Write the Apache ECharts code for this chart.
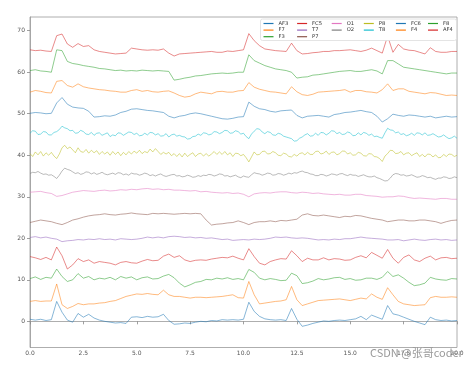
<!DOCTYPE html>
<html>
<head>
<meta charset="utf-8">
<script src="https://cdn.jsdelivr.net/npm/echarts@6/dist/echarts.min.js"></script>
<style>
  html, body { margin: 0; padding: 0; background: #fff; }
  #main { width: 474px; height: 367px; }
</style>
</head>
<body>
<div id="main"></div>
<script>
// channel order = plotting order, bottom to top
const channelNames = ['AF3', 'F7', 'F3', 'FC5', 'T7', 'P7', 'O1', 'O2', 'P8', 'T8', 'FC6', 'F4', 'F8', 'AF4']
// legend split in two blocks so the columns hold 3,3 then 2,2,2,2 names
const legendLeft = ['AF3', 'F7', 'F3', 'FC5', 'T7', 'P7']
const legendRight = ['O1', 'O2', 'P8', 'T8', 'FC6', 'F4', 'F8', 'AF4']

// samples spread evenly over 0..20 s, values relative to each channel's baseline
const af3 = [0.5,0.3,0.5,0.2, 0.4,4.8,2.2,0.3, -0.2,1.9,1.0,1.7, 0.8,0.3,0.0,-0.2, -0.4,-0.3,-0.5,1.0, 1.1,0.9,1.2,1.0, 1.1,1.7,0.2,-0.7, -0.6,-0.4,-0.5,-0.2, 0.0,-0.1,0.2,0.1, 0.4,0.3,0.4,0.3, 0.5,4.6,2.4,1.2, 0.6,0.4,0.3,0.4, 0.2,3.1,0.5,-1.2, -0.9,-0.5,-0.2,0.1, 0.0,0.2,0.3,0.2, 0.4,0.6,1.2,0.4, 1.5,1.0,0.5,3.8, 1.8,1.5,1.0,0.5, 0.0,-0.4,-0.8,1.0, 0.4,0.2,0.3,0.1, 0.2]
const f7 = [-0.2,0.0,-0.2,-0.1, -0.1,4.0,-1.0,-1.9, -1.4,-0.7,-1.0,-0.8, -0.8,-0.6,-0.5,-0.2, 0.0,0.5,1.0,1.3, 1.6,1.5,1.7,1.5, 1.4,2.5,1.4,1.0, 1.0,0.8,0.6,0.8, 0.8,0.7,0.8,0.9, 1.0,1.2,1.4,0.7, 0.6,4.6,1.4,-0.8, -0.6,-0.4,-0.2,-0.1, 0.2,3.4,0.2,-1.2, -0.8,-0.4,0.0,0.1, 0.2,0.3,0.4,0.2, 0.0,0.3,0.6,0.4, 1.6,0.8,0.3,3.1, 1.4,-0.2,-0.8,-1.0, -1.2,-1.1,-1.0,0.7, 1.0,0.8,0.8,0.9, 0.8]
const f3 = [0.3,0.7,0.1,0.6, 0.4,2.6,0.8,-0.4, 0.0,1.5,0.4,0.8, 0.0,0.4,0.2,0.6, 0.0,0.8,0.4,0.7, 0.0,0.5,0.7,0.2, 0.3,0.9,1.3,0.5, -0.8,-1.7,-1.2,-0.6, -0.4,0.1,0.0,0.4, 0.2,0.5,0.1,0.3, 0.0,2.5,1.8,0.4, 0.0,0.3,0.1,-0.2, -0.1,1.6,1.0,-0.9, -0.7,-0.3,0.3,0.0, 0.2,0.5,0.6,0.1, 0.3,-0.1,0.0,0.4, 0.4,0.1,0.6,2.0, 0.8,1.2,0.4,-0.6, -1.4,-1.2,-0.8,0.6, 0.2,0.0,-0.1,0.3, 0.2]
const fc5 = [0.6,0.3,-0.1,0.4, -0.2,2.9,0.8,-2.4, -1.4,0.1,-0.6,-0.2, -1.0,-0.6,-0.8,-1.0, -1.4,-0.8,-0.6,-0.9, -1.0,-0.5,-0.1,-0.4, -0.3,0.7,1.2,0.4, 0.8,-0.2,-0.6,-0.3, -0.2,-0.3,0.0,0.2, 0.4,0.3,0.7,0.2, -0.2,2.5,0.6,-1.0, -1.4,-0.6,-0.2,0.1, 0.0,2.0,0.8,-0.6, 0.2,-0.2,-0.2,0.3, -0.2,0.1,0.0,-0.3, -0.2,0.4,0.8,0.3, 1.6,0.9,0.2,2.3, 0.2,-1.0,0.4,1.0, -0.2,-0.6,0.2,0.7, -0.2,0.3,0.4,0.1, 0.2]
const t7 = [0.2,0.4,0.1,0.3, 0.0,-0.2,-0.8,-0.6, -0.5,-0.3,-0.4,-0.2, -0.3,-0.1,-0.3,-0.2, -0.4,-0.1,-0.2,-0.3, -0.2,0.0,0.3,0.1, 0.3,0.1,0.4,0.5, 0.4,0.2,0.3,0.1, 0.2,0.0,0.1,-0.1, -0.3,-0.2,-0.5,-0.4, -0.3,-0.4,-0.2,-0.3, -0.2,0.0,0.3,0.2, 0.3,0.1,0.0,0.1, 0.0,-0.2,-0.4,-0.3, -0.4,-0.2,-0.3,-0.1, -0.1,0.1,0.3,0.1, 0.0,-0.1,-0.2,-0.4, -0.4,-0.3,-0.6,-0.4, -0.2,-0.4,-0.5,-0.3, -0.2,-0.4,-0.3,-0.5, -0.4]
const p7 = [-1.2,-0.9,-0.6,-0.8, -1.0,-1.4,-1.7,-1.2, -0.6,-0.3,0.1,0.4, 0.6,0.7,0.9,0.7, 0.6,0.8,0.9,1.1, 0.9,0.8,0.7,1.0, 0.9,1.0,0.9,0.8, 0.9,1.0,0.9,1.0, 0.9,-0.6,-1.8,-1.6, -1.5,-1.3,-1.2,-0.8, -1.2,-1.7,-1.2,-1.0, -1.0,-0.8,-1.0,-0.7, -0.8,-0.6,-0.4,0.6, 0.9,0.5,0.4,0.6, 0.4,0.2,0.0,0.3, 0.2,0.5,0.4,0.1, -0.2,-0.4,-0.6,-1.0, -0.8,-0.6,-0.6,-0.8, -0.8,-0.6,-0.6,-0.8, -1.0,-1.4,-1.0,-0.7, -0.6]
const o1 = [1.1,1.2,1.3,1.0, 0.8,0.1,0.3,0.7, 1.1,1.3,1.5,1.4, 1.3,1.5,1.6,1.4, 1.5,1.7,1.6,1.8, 1.7,1.9,2.0,1.8, 1.9,1.7,1.8,1.6, 1.6,1.5,1.4,1.5, 1.2,1.3,1.1,1.0, 0.9,1.0,0.8,0.9, 0.6,0.0,0.7,0.9, 1.0,0.9,1.1,1.2, 1.2,1.0,0.9,1.1, 1.0,0.8,0.9,0.7, 0.6,0.5,0.6,0.4, 0.4,0.6,0.6,0.3, 0.2,0.1,-0.1,0.0, 0.0,0.2,0.1,-0.2, -0.4,-0.3,-0.4,-0.5, -0.6,-0.4,-0.4,-0.6, -0.6]
const o2 = [0.6,0.9,0.8,1.1,0.7,0.4,0.5,0.2, 0.3,-0.1,-0.6,0.2,1.2,1.9,1.6,1.4, 1.0,0.6,0.8,0.4,0.6,1.0,0.9,0.5, 0.8,0.4,0.6,0.9,0.5,0.3,0.5,0.7, 0.4,0.8,0.7,0.3,0.5,0.2,0.7,0.5, 0.5,0.2,0.4,0.7,0.5,0.1,0.3,0.0, 0.3,0.5,0.1,-0.1,0.1,0.3,0.4,0.0, 0.1,-0.2,-0.1,0.2,0.0,-0.3,-0.2,0.1, -0.1,0.2,0.1,0.4,0.3,0.0,0.2,0.5, 0.4,0.0,0.1,-0.2,0.0,0.2,-0.2,-0.4, 0.0,-0.2,-0.3,0.3,0.8,0.6,0.5,0.2, 0.4,0.7,0.6,0.2,0.3,0.6,0.5,0.2, 0.4,0.7,0.5,0.8,0.7,1.0,1.2,0.9, 0.8,0.5,0.4,0.1,0.1,0.4,0.3,0.0, 0.2,0.5,0.4,0.2,0.5,0.6,0.3,0.1, 0.4,0.2,0.2,-0.1,0.1,0.3,0.0,-0.2, -0.2,0.0,-0.4,-0.6,-0.9,-1.2,-1.1,-0.5, 0.3,0.6,0.5,0.2,0.3,0.0,0.1,0.3, 0.0,-0.3,-0.2,0.1,-0.1,-0.4,-0.3,-0.6, -0.8,-0.5,-0.5,-0.2,-0.3,-0.6,-0.5,-0.2, -0.4]
const p8 = [0.4,-0.3,0.8,0.1,0.9,-0.2,0.6,0.0, 0.7,-0.2,-0.8,0.3,1.8,2.4,1.6,2.0, 1.3,0.6,1.8,0.9,0.7,1.4,0.5,1.2, 0.6,1.1,0.2,0.9,0.3,0.8,0.0,0.9, 0.2,0.8,-0.1,0.7,0.1,0.9,0.3,1.0, 0.5,1.2,0.4,0.9,0.6,1.5,0.8,1.6, 0.9,0.2,0.7,0.3,0.7,-0.1,0.4,-0.3, 0.4,-0.4,0.5,-0.3,0.2,0.6,-0.3,0.3, 0.5,-0.2,0.4,-0.2,0.3,0.9,0.2,0.8, 0.2,0.9,0.1,0.6,-0.3,0.5,0.4,-0.1, 0.2,-0.6,-1.6,-0.4,0.8,0.1,0.2,0.9, 1.0,0.3,0.4,0.9,0.6,0.0,-0.1,0.5, 0.3,-0.3,-0.4,0.2,-0.2,0.4,0.6,0.1, 0.7,0.2,0.2,0.9,1.0,0.3,0.5,1.0, 0.2,0.7,0.8,0.1,0.4,1.0,1.0,0.3, 0.6,0.0,0.1,0.7,0.5,-0.1,-0.2,0.4, 0.3,-0.3,-0.4,-0.8,-1.5,-0.2,0.4,1.2, 1.1,0.4,0.5,0.9,0.1,0.5,0.6,-0.1, 0.3,0.6,-0.3,0.2,-0.4,0.3,0.2,-0.4, 0.1,-0.6,-0.5,0.2,-0.3,0.3,0.2,-0.3, 0.0]
const t8 = [0.3,0.9,0.8,0.0,0.1,0.7,0.6,-0.1, -0.1,0.5,0.7,1.2,2.0,1.6,1.4,0.9, 1.0,0.3,0.4,1.0,0.7,0.1,0.0,0.5, -0.2,0.3,0.4,-0.2,0.1,0.4,-0.5,-0.1, -0.3,0.4,0.3,-0.2,0.2,0.6,0.5,0.0, 0.3,-0.3,-0.2,0.3,-0.1,0.5,0.4,-0.1, 0.2,-0.4,-0.3,0.2,-0.6,-0.1,0.1,-0.4, -0.2,-0.5,-0.6,-1.1,-1.0,-0.5,-0.4,0.1, -0.2,0.4,0.3,-0.1,0.1,0.7,0.6,0.2, 0.5,1.0,0.9,0.3,0.4,0.9,0.7,0.1, 0.3,-0.5,-1.0,0.1,0.8,1.4,1.3,0.6, 0.2,0.7,0.5,-0.1,-0.2,0.3,0.1,-0.4, -0.6,-0.8,-1.0,-1.6,-1.5,-0.9,-0.6,-0.1, 0.2,-0.4,-0.3,0.3,-0.2,0.5,0.4,-0.1, 0.3,0.9,0.8,0.2,0.5,0.0,0.1,0.6, 0.4,-0.3,-0.2,0.4,-0.1,0.5,0.3,-0.2, 0.1,-0.5,-0.4,-0.7,-0.9,0.4,1.5,1.1, 1.0,0.4,0.6,0.0,0.2,-0.3,-0.1,0.3, -0.2,0.4,0.3,-0.1,0.4,-0.2,-0.1,0.2, -0.2,-0.6,-0.5,-0.1,-0.6,-1.0,-0.8,-0.4, -0.9]
const fc6 = [0.1,0.3,0.2,0.0, 0.1,2.6,3.9,2.3, 1.6,1.4,1.3,0.6, -0.8,-0.7,-0.5,-0.6, -0.3,0.3,0.6,1.1, 1.2,1.0,0.8,0.7, 0.5,0.3,-0.6,-1.0, -0.6,-0.4,0.0,0.2, 0.0,-0.3,-0.6,-0.9, -1.2,-1.3,-1.1,-0.8, -0.7,2.8,1.8,1.2, 1.0,0.6,0.4,0.7, 0.8,0.9,-0.4,-1.0, -0.6,-0.5,-0.4,-0.6, -0.8,-0.2,0.0,0.3, 0.4,0.6,0.8,0.5, 0.3,-0.6,-2.0,-1.2, -0.1,-0.4,-0.6,-0.3, -0.4,-0.6,-0.8,-0.6, -1.0,-0.8,-0.6,-0.8, -0.7]
const f4 = [0.2,0.6,0.4,0.1, 0.0,2.8,3.0,1.8, 1.4,2.2,1.5,1.2, 1.0,0.8,0.7,0.5, 0.4,0.2,0.2,0.6, 0.8,0.4,0.6,0.3, 0.2,0.4,0.5,0.0, -0.6,-1.0,-0.8,-0.2, 0.2,0.0,-0.2,0.3, 0.4,0.2,0.2,0.5, 0.6,2.5,1.4,0.9, 0.6,0.3,0.2,0.0, -0.2,1.5,0.3,-0.4, -0.6,-0.3,0.2,0.3, 0.4,0.5,0.6,0.8, 0.2,0.6,0.6,0.3, 0.2,0.0,0.8,2.2, 0.6,1.0,1.0,0.4, 0.2,0.0,-0.2,0.1, 0.0,-0.3,-0.6,-0.5, -0.6]
const f8 = [0.4,0.6,0.3,0.2, 0.0,5.4,5.2,2.6, 2.1,1.9,1.6,1.4, 1.2,0.9,0.8,0.6, 0.4,0.5,0.3,0.4, 0.3,0.5,0.4,0.3, 0.4,0.3,0.2,-1.9, -1.7,-1.4,-1.2,-0.9, -0.8,-0.6,-0.4,-0.3, -0.2,-0.3,-0.2,0.0, 0.0,4.2,2.8,2.2, 1.6,1.2,0.8,0.6, 0.4,0.0,-1.4,-1.2, -1.1,-0.7,-0.6,-0.4, -0.2,0.0,0.2,0.3, 0.4,0.2,0.2,0.4, 0.6,0.3,-0.4,2.8, 2.8,2.0,1.2,1.0, 0.8,0.6,0.4,0.2, 0.0,-0.2,-0.4,-0.2, -0.2]
const af4 = [0.4,0.2,0.3,0.1, 0.0,3.8,4.2,1.8, 1.0,1.9,1.2,1.4, 0.4,0.0,-0.2,-0.4, -0.6,-0.5,-0.4,0.8, 0.6,0.4,0.3,0.4, 0.3,0.6,-0.4,-1.1, -0.6,-0.5,-0.4,-0.3, -0.2,-0.1,0.0,-0.2, -0.2,0.1,0.0,0.2, 0.4,4.3,2.6,1.4, 0.6,0.4,0.2,0.1, 0.0,2.0,0.2,-0.6, -0.5,-0.3,-0.2,0.0, 0.0,0.2,0.2,0.3, 0.4,0.2,0.0,0.3, 0.8,0.2,-0.4,3.7, -0.2,1.7,0.6,0.3, 0.2,-0.2,-0.6,0.9, 0.0,-0.2,-0.2,0.0, 0.0]

const xTicks = [0, 2.5, 5, 7.5, 10, 12.5, 15, 17.5, 20]
const yTicks = [0, 10, 20, 30, 40, 50, 60, 70]

const duration = 20  // seconds shown
const spacing = 5    // channels are stacked 5 units apart
const colors = ['#1f77b4', '#ff7f0e', '#2ca02c', '#d62728', '#9467bd',
                '#8c564b', '#e377c2', '#7f7f7f', '#bcbd22', '#17becf']
const colorOf = name => colors[channelNames.indexOf(name) % colors.length]

const channels = [af3, f7, f3, fc5, t7, p7, o1, o2, p8, t8, fc6, f4, f8, af4]

const series = channels.map((vals, i) => {
    const step = duration / (vals.length - 1)
    return {
        name: channelNames[i],
        type: 'line',
        symbol: 'none',
        showSymbol: false,
        lineStyle: { width: 0.6, color: colorOf(channelNames[i]), opacity: 0.9 },
        itemStyle: { color: colorOf(channelNames[i]) },
        data: vals.map((v, k) => [k * step, v + i * spacing])
    }
})

const legendItems = names => names.map(name => ({ name, itemStyle: { color: colorOf(name) } }))

const legendBase = {
    orient: 'vertical',
    top: 19.5,
    padding: [1, 3, 1, 3],
    itemGap: 0.6,
    itemWidth: 10,
    itemHeight: 1.2,
    icon: 'rect',
    z: 20,
    textStyle: {
        fontSize: 5.2,
        lineHeight: 6,
        width: 18,
        color: '#333',
        fontFamily: 'DejaVu Sans'
    }
}

const chart = echarts.init(document.getElementById('main'), null, { renderer: 'canvas' })
chart.setOption({
    animation: false,
    backgroundColor: '#fff',
    grid: {
        left: 30, right: 17, top: 17, bottom: 19.5,
        show: true, borderColor: '#999', borderWidth: 0.8
    },
    xAxis: {
        type: 'value',
        min: 0,
        max: 20,
        splitLine: { show: false },
        axisLine: { lineStyle: { color: '#999', width: 0.8 } },
        axisTick: { customValues: xTicks, length: 3, lineStyle: { color: '#888', width: 0.8 } },
        axisLabel: {
            customValues: xTicks,
            formatter: v => v.toFixed(1),
            fontSize: 6, color: '#555', margin: 3, fontFamily: 'DejaVu Sans'
        }
    },
    yAxis: {
        type: 'value',
        min: -6.3,
        max: 73.3,
        splitLine: { show: false },
        axisLine: { show: true, lineStyle: { color: '#999', width: 0.8 } },
        axisTick: { show: true, customValues: yTicks, length: 3, lineStyle: { color: '#888', width: 0.8 } },
        axisLabel: {
            customValues: yTicks,
            fontSize: 6, color: '#555', margin: 5, fontFamily: 'DejaVu Sans'
        }
    },
    legend: [
        { ...legendBase, data: legendItems(legendLeft), left: 260.5, height: 22 },
        {
            ...legendBase,
            data: legendItems(legendRight),
            left: 328.7,
            height: 15,
            textStyle: { ...legendBase.textStyle, width: 16.5 }
        }
    ],
    graphic: [{
        type: 'rect',
        z: 10,
        silent: true,
        shape: { x: 260.5, y: 19, width: 196, height: 21.5, r: 2 },
        style: { fill: '#fff', stroke: '#ddd', lineWidth: 0.8 }
    }, {
        type: 'text',
        left: 370,
        top: 347,
        z: 30,
        silent: true,
        style: {
            text: 'CSDN @张哥coder',
            fill: '#999',
            font: '11px "Noto Sans CJK SC"'
        }
    }],
    series
})
</script>
</body>
</html>
